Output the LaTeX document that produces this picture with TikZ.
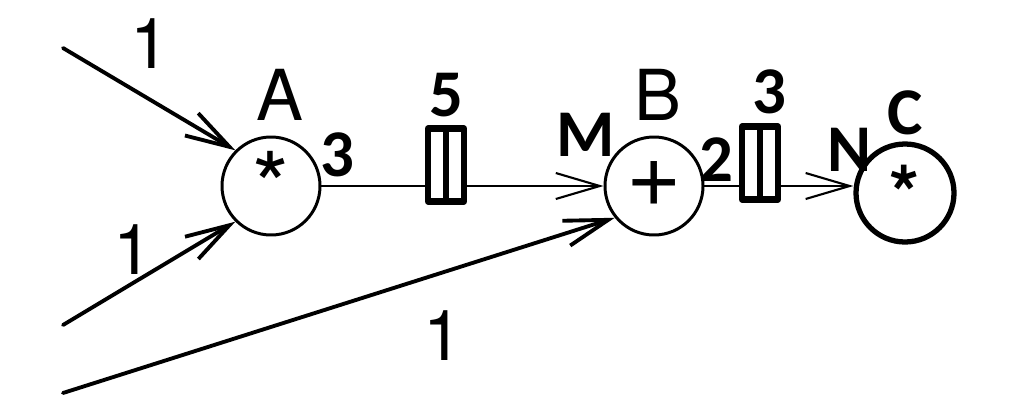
\documentclass[tikz,border=0pt]{standalone}
\usepackage{fontspec}
\newfontfamily\reglbl{TeX Gyre Heros}
\newfontfamily\boldlbl{Carlito}
\usetikzlibrary{arrows.meta}

\begin{document}
\begin{tikzpicture}[line cap=round,line join=round,x=0.1mm,y=-0.1mm,
    >={Straight Barb[length=4.4mm,width=2.6mm]},
    op/.style={circle,draw,line width=0.85pt,minimum size=9.8mm,inner sep=0pt,font=\reglbl\fontsize{27pt}{27pt}\selectfont},
    opbold/.style={op,line width=1.5pt,font=\reglbl\fontsize{22pt}{22pt}\selectfont\bfseries},
    delaybox/.style={rectangle,draw,line width=1.8pt,minimum width=3.6mm,minimum height=7.3mm,inner sep=0pt},
    wire/.style={line width=1.1pt},
    thin wire/.style={line width=0.6pt},
    lbl/.style={inner sep=0pt,font=\reglbl\fontsize{20pt}{20pt}\selectfont},
    blbl/.style={inner sep=0pt,font=\boldlbl\fontsize{19pt}{19pt}\selectfont\bfseries}]
      \useasboundingbox (0,0) rectangle (1024,415);
      % operators
      \node[op] (A) at (271,186) {\raisebox{-0.3em}{*}};
      \node[op] (B) at (654,186) {\raisebox{0.05em}{+}};
      \node[opbold] (C) at (905,193) {\raisebox{-0.35em}{*}};
      % delays
      \node[delaybox] (d1) at (446,165) {};
      \node[delaybox] (d2) at (760,163) {};
      \draw[line width=1.8pt,line cap=butt,shorten <=1.8pt,shorten >=1.8pt] (d1.north) -- (d1.south);
      \draw[line width=1.8pt,line cap=butt,shorten <=1.8pt,shorten >=1.8pt] (d2.north) -- (d2.south);
      % inputs
      \coordinate (in1) at (63,48);
      \coordinate (in2) at (63,325);
      \coordinate (in3) at (63,393);
      \draw[wire,->] (in1) -- (A.135);
      \draw[wire,->] (in2) -- (A.225);
      \draw[wire,->] (in3) -- (B.219);
      % links
      \draw[thin wire] (A.east) -- (A.east -| d1.west);
      \draw[thin wire,->] (A.east -| d1.east) -- (B.west);
      \draw[thin wire] (B.east) -- (B.east -| d2.west);
      \draw[thin wire,->] (B.east -| d2.east) -- (B.east -| C.west);
      % labels
      \node[lbl] (lA) at (280,95) {A};
      \node[lbl] (lB) at (658,95) {B};
      \node[lbl] (w1) at (150,44) {1};
      \node[lbl] (w2) at (133,250) {1};
      \node[lbl] (w3) at (443,336) {1};
      \node[blbl] (k1) at (337,155) {3};
      \node[blbl] (k2) at (446,95) {5};
      \node[blbl] (lM) at (586,135) {M};
      \node[blbl] (k3) at (716,160) {2};
      \node[blbl] (k4) at (769,92) {3};
      \node[blbl] (lN) at (849,150) {N};
      \node[blbl] (lC) at (905,113) {C};
    \end{tikzpicture}
\end{document}
